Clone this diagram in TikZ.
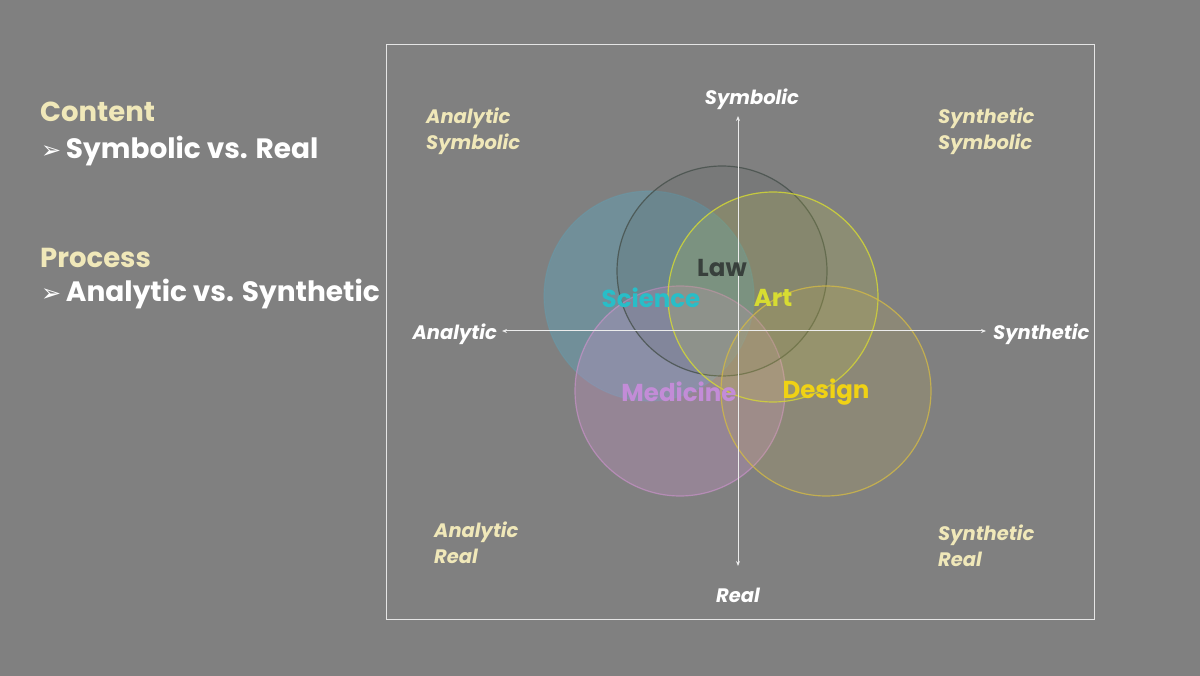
\documentclass[tikz,border=0pt]{standalone}
\usepackage{fontspec}
\setmainfont{Poppins}
\newfontfamily\symfont{DejaVu Sans}
\usetikzlibrary{arrows.meta}
\definecolor{bg}{RGB}{128,128,128}
\definecolor{cream}{RGB}{240,232,185}
\definecolor{sci}{RGB}{90,170,195}
\definecolor{med}{RGB}{200,145,200}
\definecolor{lawc}{RGB}{70,80,75}
\definecolor{artc}{RGB}{215,220,50}
\definecolor{desc}{RGB}{210,185,70}
\definecolor{scitxt}{RGB}{40,190,200}
\definecolor{medtxt}{RGB}{195,140,215}
\definecolor{destxt}{RGB}{240,210,20}
\begin{document}
\begin{tikzpicture}[x=1pt,y=-1pt,
  axlab/.style={font=\fontsize{19.5}{22}\selectfont\itshape\bfseries, text=white, inner sep=1pt},
  corner/.style={font=\fontsize{19.5}{26}\selectfont\itshape\bfseries, text=cream, align=left, anchor=north west, inner sep=0pt},
  circ/.style={circle, minimum size=210pt, inner sep=0pt, line width=1.2pt},
  clab/.style={font=\fontsize{24.5}{28}\selectfont\bfseries, inner sep=0pt},
  axis/.style={draw=white!85!gray, line width=1pt, -{Stealth[length=5pt,width=4pt]}},
  head/.style={font=\fontsize{27.5}{30}\selectfont\bfseries, text=cream, anchor=west, inner sep=0pt},
  item/.style={font=\fontsize{28}{30}\selectfont\bfseries, text=white, anchor=west, inner sep=0pt}]
\fill[bg] (0,0) rectangle (1200,676);
\useasboundingbox (0,0) rectangle (1200,676);
\draw[white!80!gray, line width=1pt] (386,45) rectangle (1094,619);
% circles
\node[circ, fill=sci, fill opacity=0.38, draw=sci!70!gray, draw opacity=0.4] (scic) at (649,296) {};
\node[circ, fill=med, fill opacity=0.3, draw=med, draw opacity=0.7] (medc) at (680,391) {};
\node[circ, fill=lawc, fill opacity=0.13, draw=lawc, draw opacity=0.8] (lawc) at (722,271) {};
\node[circ, fill=artc, fill opacity=0.15, draw=artc, draw opacity=0.8] (artc) at (773,297) {};
\node[circ, fill=desc, fill opacity=0.15, draw=desc, draw opacity=0.8] (desc) at (826,391) {};
% axes
\coordinate (ctr) at (738,331);
\coordinate (top) at (738,116);
\coordinate (bot) at (738,566);
\coordinate (lft) at (502,331);
\coordinate (rgt) at (986,331);
\draw[axis] (ctr) -- (top);
\draw[axis] (ctr) -- (bot);
\draw[axis] (ctr) -- (lft);
\draw[axis] (ctr) -- (rgt);
\node[axlab] (sym) at (752,99) {Symbolic};
\node[axlab] (real) at (738,595) {Real};
\node[axlab, anchor=east] (ana) at (498,334) {Analytic};
\node[axlab, anchor=west] (syn) at (992,334) {Synthetic};
% corner labels
\node[corner] (as) at (426,108) {Analytic\\Symbolic};
\node[corner] (ss) at (938,108) {Synthetic\\Symbolic};
\node[corner] (ar) at (434,522) {Analytic\\Real};
\node[corner] (sr) at (938,525) {Synthetic\\Real};
% circle labels
\node[clab, text=lawc!80!black] (law) at (722,268) {Law};
\node[clab, text=scitxt] (scil) at (651,298) {Science};
\node[clab, text=artc] (art) at (773,298) {Art};
\node[clab, text=medtxt] (medl) at (679,392) {Medicine};
\node[clab, text=destxt] (desl) at (826,392) {Design};
% left text
\node[head] (content) at (40,112) {Content};
\node[item] (it1) at (41,151) {{\symfont\fontsize{24}{26}\selectfont ➢}\,Symbolic vs. Real};
\node[head] (process) at (40,258) {Process};
\node[item] (it2) at (41,294) {{\symfont\fontsize{24}{26}\selectfont ➢}\,Analytic vs. Synthetic};
\end{tikzpicture}
\end{document}
